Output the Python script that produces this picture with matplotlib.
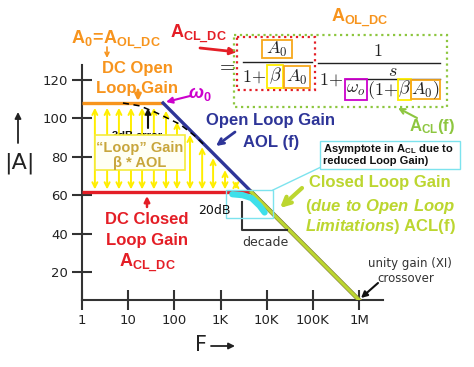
import numpy as np
import matplotlib.pyplot as plt
from matplotlib.patches import Rectangle

plt.rcParams['font.family'] = ['Liberation Sans', 'DejaVu Sans']
plt.rcParams['mathtext.fontset'] = 'custom'
plt.rcParams['mathtext.rm'] = 'Liberation Sans:bold'
plt.rcParams['mathtext.it'] = 'Liberation Sans:bold:italic'
plt.rcParams['mathtext.bf'] = 'Liberation Sans:bold'

# valores
freq_ticks = [1, 10, 100, 1e3, 1e4, 1e5, 1e6]
freq_labels = ['1', '10', '100', '1K', '10K', '100K', '1M']
gain_ticks = [20, 40, 60, 80, 100, 120]

ol_f = [1, 57, 1e6]            # ganho de malha aberta AOL(f)
ol_db = [108, 108, 5.4]
cl_dc_f = [1, 4700]            # ganho DC de malha fechada
cl_dc_db = [61.5, 61.5]
acl_f = [4700, 1e6]            # ACL(f) limitado pela malha aberta
acl_db = [61.5, 5.4]
real_ol_f = [7.7, 18, 42, 133, 280, 460]      # canto real (tracejado)
real_ol_db = [108, 106.5, 102.8, 96.9, 90.8, 85.8]
real_cl_f = [1800, 3000, 4700, 7000, 9000]    # canto real da malha fechada
real_cl_db = [60.5, 60.0, 58.5, 54.5, 51.0]
loop_f = [1.9, 3.5, 6.3, 11.5, 20, 36, 66, 114, 218, 400, 690, 1250, 2150]

orange = '#F7941D'
red = '#E41E26'
blue = '#2E3598'
ygreen = '#BCD630'
green = '#8DC63F'
magenta = '#CC00CC'
cyan = '#3EE0EA'
yellow = '#FFEE00'
gold = '#C8A63C'

W, H = 474, 367
fig = plt.figure(figsize=(W / 100, H / 100), dpi=100)
ax = fig.add_axes([82 / W, 1 - 300 / H, 301 / W, 235 / H])
ax.set_xscale('log')
ax.set_xlim(1, 3.3e6)
ax.set_ylim(5.4, 127.8)
ax.minorticks_off()
for s in ['top', 'right']:
    ax.spines[s].set_visible(False)
for s in ['left', 'bottom']:
    ax.spines[s].set_color('#333333')
    ax.spines[s].set_linewidth(1.5)
ax.set_xticks(freq_ticks)
ax.set_xticklabels(freq_labels, fontfamily='DejaVu Sans')
ax.set_yticks(gain_ticks)
ax.set_yticklabels([str(g) for g in gain_ticks], fontfamily='DejaVu Sans')
ax.tick_params(direction='inout', length=14, width=1.5, color='#333333',
               labelsize=9.5, labelcolor='#222222', pad=3)
ax.patch.set_alpha(0)

# curvas
ax.plot(ol_f[:2], ol_db[:2], color=orange, lw=2.4, solid_capstyle='butt', zorder=3)
ax.plot(ol_f[1:], ol_db[1:], color=blue, lw=2.4, zorder=3)
ax.plot(cl_dc_f, cl_dc_db, color=red, lw=2.4, solid_capstyle='butt', zorder=4)
ax.plot(acl_f, acl_db, color='#8A8A3A', lw=3.2, zorder=5)
ax.plot(acl_f, acl_db, color=ygreen, lw=2.2, zorder=6)
ax.plot(real_ol_f, real_ol_db, color='black', ls='--', dashes=(4, 3), lw=1.1, zorder=4)
ax.plot(real_cl_f, real_cl_db, color=cyan, lw=4.5, solid_capstyle='round', zorder=7)

# setas do ganho de malha (loop gain)
def ol_gain(f):
    return np.interp(np.log10(f), np.log10(ol_f), ol_db)

for f in loop_f:
    ax.annotate('', xy=(f, ol_gain(f) - 2.5), xytext=(f, cl_dc_db[0] + 1.5),
                arrowprops=dict(arrowstyle='<->', color=yellow, lw=1.4,
                                shrinkA=0, shrinkB=0, mutation_scale=9), zorder=2)

# camada de anotacoes em pixels
ov = fig.add_axes([0, 0, 1, 1], zorder=5)
ov.set_xlim(0, W)
ov.set_ylim(H, 0)
ov.axis('off')


def label(x, y, s, color, size=12, weight='bold', **kw):
    ov.text(x, y, s, color=color, fontsize=size, fontweight=weight,
            ha=kw.pop('ha', 'center'), va='center', **kw)


def arrow(x0, y0, x1, y1, color, lw=1.5, style='-|>', ms=10):
    ov.annotate('', xy=(x1, y1), xytext=(x0, y0),
                arrowprops=dict(arrowstyle=style, color=color, lw=lw,
                                shrinkA=0, shrinkB=0, mutation_scale=ms))


def box(x0, y0, x1, y1, color, lw=1.3, ls='-', fc=None, z=3):
    ov.add_patch(Rectangle((x0, y0), x1 - x0, y1 - y0, fill=fc is not None,
                           facecolor=fc, edgecolor=color, lw=lw, ls=ls, zorder=z))


def math(x, y, s, size=13):
    ov.text(x, y, s, color='#222222', fontsize=size, math_fontfamily='cm',
            ha='center', va='center', zorder=4)


# eixos: |A| e F
label(19, 163, '|A|', '#222222', size=16, weight='normal', fontfamily='DejaVu Sans')
arrow(18, 143, 18, 112, '#222222', lw=1.3, ms=9)
label(201, 345, 'F', '#222222', size=15, weight='normal', fontfamily='DejaVu Sans')
arrow(211, 346, 235, 346, '#222222', lw=1.3, ms=9)

# A0 e ganho DC de malha aberta
label(116, 40, r'$\mathrm{A_0\!=\!A_{OL\_DC}}$', orange, size=13)
arrow(107, 47, 107, 58, orange, lw=1.2, style='->', ms=7)
label(137, 69, 'DC Open', orange)
label(137, 88, 'Loop Gain', orange)
arrow(138, 90, 138, 101, orange, lw=2, ms=9)
label(200, 94, r'$\omega_0$', magenta, size=13)
arrow(190, 96, 166, 102, magenta, lw=1.5, ms=9)

# ganho DC de malha fechada
label(198, 34, r'$\mathrm{A_{CL\_DC}}$', red, size=13)
arrow(200, 48, 237, 52, red, lw=2, ms=10)
label(147, 219, 'DC Closed', red)
label(147, 240, 'Loop Gain', red)
label(147, 263, r'$\mathrm{A_{CL\_DC}}$', red, size=13)
arrow(147, 207, 147, 196, red, lw=1.8, ms=8)

# caixa do loop gain
box(95, 135, 185, 170, '#F5EB3C', lw=1.2, fc='#FFFFF4', z=3)
label(137, 136, '3dB error', '#111111', size=8, zorder=2)
arrow(148, 128, 148, 108, '#111111', lw=1.5, ms=8)
label(140, 148, '\u201cLoop\u201d Gain', gold, size=10.5, zorder=4)
label(140, 163, '\u03b2 * AOL', gold, size=10.5, zorder=4)

# malha aberta
label(271, 121, 'Open Loop Gain', blue)
label(271, 143, 'AOL (f)', blue)
arrow(235, 132, 216, 146, blue, lw=2, style='->', ms=10)

# formula
label(360, 18, r'$\mathrm{A_{OL\_DC}}$', orange, size=13)
box(234, 35, 447, 107, green, lw=1.6, ls=':')
box(237, 37, 315, 90, red, lw=1.6, ls=':')
math(226, 67, r'$=$', size=14)
math(277, 49, r'$A_0$')
ov.plot([243, 312], [62, 62], color='#222222', lw=1)
math(254, 77, r'$1\!+$')
math(275, 76, r'$\beta$')
math(297, 77, r'$A_0$')
math(378, 51, r'$1$')
ov.plot([318, 440], [63, 63], color='#222222', lw=1)
math(331, 80, r'$1\!+$')
math(393, 71, r'$s$')
ov.plot([346, 440], [79, 79], color='#222222', lw=1)
math(356, 89, r'$\omega_o$')
math(383, 90, r'$(1\!+$')
math(404, 89, r'$\beta$')
math(425, 90, r'$A_0)$')
box(262, 40, 292, 58, '#F7A81B')
box(267, 65, 283, 88, yellow)
box(284, 66, 310, 88, '#F7A81B')
box(345, 79, 367, 100, magenta)
box(398, 79, 411, 100, yellow)
box(411, 80, 440, 99, '#F7A81B')
label(432, 126, r'$\mathrm{A_{CL}}$(f)', green, size=12)
arrow(417, 118, 398, 108, green, lw=1.5, style='->', ms=9)

# assintota / canto da malha fechada
box(226, 190, 273, 218, '#7DE3EE', lw=1)
ov.plot([273, 321], [190, 167], color='#7DE3EE', lw=1)
box(320, 141, 460, 169, '#7DE3EE', lw=1, fc='white')
label(323, 148.5, r'Asymptote in A$_{\mathrm{CL}}$ due to', '#111111', size=8, ha='left')
label(323, 161.5, 'reduced Loop Gain)', '#111111', size=8, ha='left')
label(214, 210, '20dB', '#111111', size=9, weight='normal', fontfamily='DejaVu Sans')
ov.plot([242, 242, 287], [202, 230, 230], color='#333333', lw=1.5)
label(265, 243, 'decade', '#333333', size=9, weight='normal', fontfamily='DejaVu Sans')

label(380, 183, 'Closed Loop Gain', ygreen)
label(380, 206, r'($\mathit{due\ to\ Open\ Loop}$', ygreen)
label(380, 227, r'$\mathit{Limitations}$) ACL(f)', ygreen)
arrow(302, 188, 280, 208, ygreen, lw=3, style='->', ms=14)

# cruzamento de ganho unitario
label(410, 264, 'unity gain (XI)', '#333333', size=8.5, weight='normal', fontfamily='DejaVu Sans')
label(406, 278, 'crossover', '#333333', size=8.5, weight='normal', fontfamily='DejaVu Sans')
arrow(378, 283, 361, 298, '#111111', lw=1.5, ms=9)

fig.savefig('out.png', dpi=100)
